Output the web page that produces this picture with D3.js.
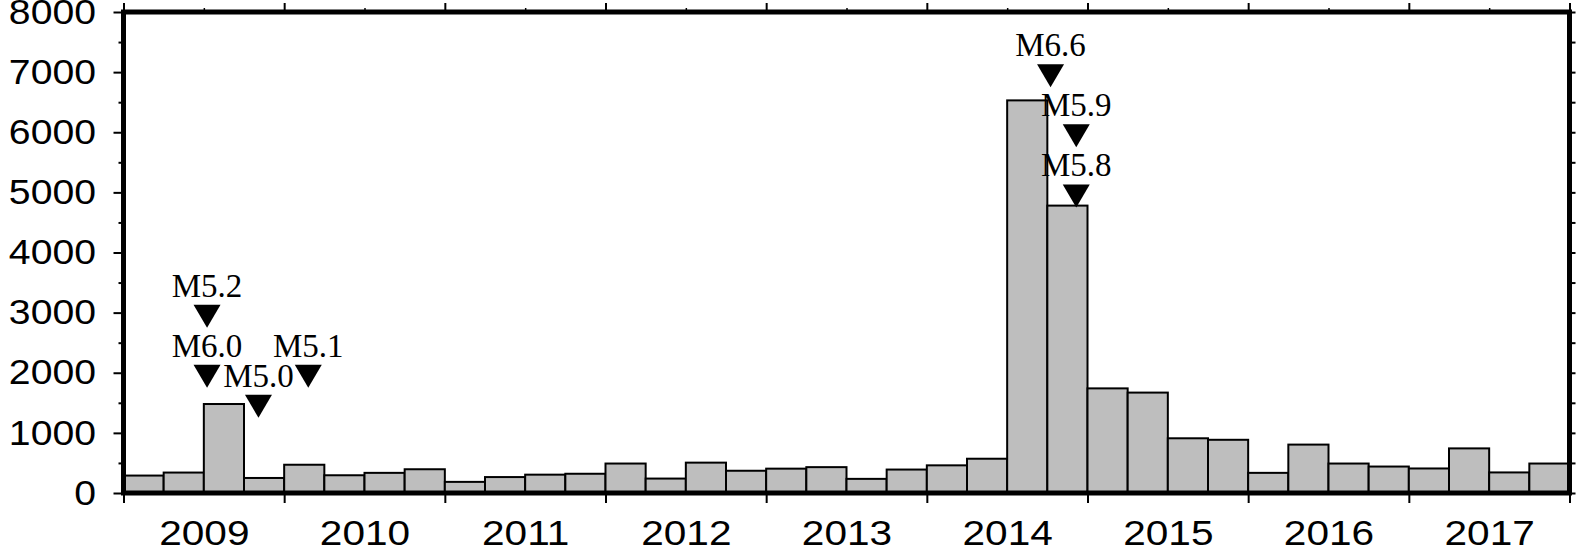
<!DOCTYPE html>
<html>
<head>
<meta charset="utf-8">
<script src="https://cdn.jsdelivr.net/npm/d3@7"></script>
<style>
  html, body { margin: 0; padding: 0; background: #fff; }
  svg { display: block; }
</style>
</head>
<body>
<svg id="chart" width="1580" height="556"></svg>
<script>
// ---- data ----
const years = [2009, 2010, 2011, 2012, 2013, 2014, 2015, 2016, 2017];
const quarters = ["Q1", "Q2", "Q3", "Q4"];
// quarterly event counts, 2009Q1 .. 2017Q4
const counts = [
  290, 340, 1480, 250,
  470, 295, 335, 395,
  185, 265, 305, 320,
  490, 240, 505, 370,
  405, 430, 235, 390,
  460, 570, 6530, 4780,
  1740, 1670, 910, 885,
  335, 805, 490, 440,
  408, 742, 342, 490
];
const yTicks = [0, 1000, 2000, 3000, 4000, 5000, 6000, 7000, 8000];
const yMinorTicks = [500, 1500, 2500, 3500, 4500, 5500, 6500, 7500];
// earthquakes marked on the chart
const eqLabels = ["M5.2", "M6.0", "M5.0", "M5.1", "M6.6", "M5.9", "M5.8"];
const eqTimes  = [2009.52, 2009.52, 2009.84, 2010.15, 2014.77, 2014.93, 2014.93];
const eqLevels = [3000, 2000, 1500, 2000, 7000, 6000, 5000];

// ---- layout ----
const svg = d3.select("#chart");
const x = d3.scaleLinear().domain([2009, 2018]).range([123.5, 1569.5]);
const y = d3.scaleLinear().domain([0, 8000]).range([493, 12]);
const sans = "'Liberation Sans', Arial, Helvetica, sans-serif";
const serif = "'Liberation Serif', 'Times New Roman', Times, serif";

// bars
const barData = [];
years.forEach((yr, i) => quarters.forEach((q, j) => {
  barData.push({ start: yr + j / 4, end: yr + (j + 1) / 4, v: counts[i * 4 + j] });
}));
svg.append("g").selectAll("rect").data(barData).join("rect")
  .attr("x", d => x(d.start))
  .attr("width", d => x(d.end) - x(d.start))
  .attr("y", d => y(d.v))
  .attr("height", d => y(0) - y(d.v))
  .attr("fill", "#bebebe")
  .attr("stroke", "#000")
  .attr("stroke-width", 2);

// axes
function styleAxis(g, w) {
  g.select(".domain").remove();
  g.selectAll(".tick line").attr("stroke", "#000").attr("stroke-width", w);
}
const yearBounds = years.concat([2018]);
const midYears = years.map(v => v + 0.5);

// left: major with labels, minor
const ySX = 1.12;
svg.append("g").attr("transform", `translate(${x(2009)},0)`)
  .call(d3.axisLeft(y).tickValues(yTicks).tickSize(10).tickPadding(0).tickFormat(d3.format("d")))
  .call(g => styleAxis(g, 2))
  .call(g => g.selectAll("text")
    .attr("x", -27.5 / ySX)
    .attr("transform", `scale(${ySX},1)`)
    .attr("font-family", sans).attr("font-size", 35).attr("fill", "#000"));
svg.append("g").attr("transform", `translate(${x(2009)},0)`)
  .call(d3.axisLeft(y).tickValues(yMinorTicks).tickSize(5).tickFormat(""))
  .call(g => styleAxis(g, 2));
// right
svg.append("g").attr("transform", `translate(${x(2018)},0)`)
  .call(d3.axisRight(y).tickValues(yTicks.concat(yMinorTicks)).tickSize(6).tickFormat(""))
  .call(g => styleAxis(g, 2));
// top
svg.append("g").attr("transform", `translate(0,${y(8000)})`)
  .call(d3.axisTop(x).tickValues(yearBounds).tickSize(9).tickFormat(""))
  .call(g => styleAxis(g, 2));
svg.append("g").attr("transform", `translate(0,${y(8000)})`)
  .call(d3.axisTop(x).tickValues(midYears).tickSize(4).tickFormat(""))
  .call(g => styleAxis(g, 1.5));
// bottom ticks
svg.append("g").attr("transform", `translate(0,${y(0)})`)
  .call(d3.axisBottom(x).tickValues(yearBounds).tickSize(10).tickFormat(""))
  .call(g => styleAxis(g, 2));
// bottom year labels (centered in each year)
svg.append("g").attr("transform", `translate(0,${y(0)})`)
  .call(d3.axisBottom(x).tickValues(midYears).tickSize(0).tickPadding(27).tickFormat(d => String(Math.floor(d))))
  .call(g => { g.select(".domain").remove(); g.selectAll(".tick line").remove(); })
  .call(g => g.selectAll("text")
    .attr("transform", "scale(1.16,1)")
    .attr("font-family", sans).attr("font-size", 35).attr("fill", "#000"));

// frame
svg.append("rect")
  .attr("x", x(2009)).attr("y", y(8000))
  .attr("width", x(2018) - x(2009)).attr("height", y(0) - y(8000))
  .attr("fill", "none").attr("stroke", "#000").attr("stroke-width", 5);

// earthquake markers
const eq = eqLabels.map((l, i) => ({ label: l, t: eqTimes[i], v: eqLevels[i] }));
const mk = svg.append("g").selectAll("g").data(eq).join("g")
  .attr("transform", d => `translate(${x(d.t)},${y(d.v)})`);
mk.append("path").attr("d", "M-13.5,-8L13.5,-8L0,15Z").attr("fill", "#000");
mk.append("text").attr("y", -16).attr("text-anchor", "middle")
  .attr("font-family", serif).attr("font-size", 33).attr("fill", "#000")
  .text(d => d.label);
</script>
</body>
</html>
